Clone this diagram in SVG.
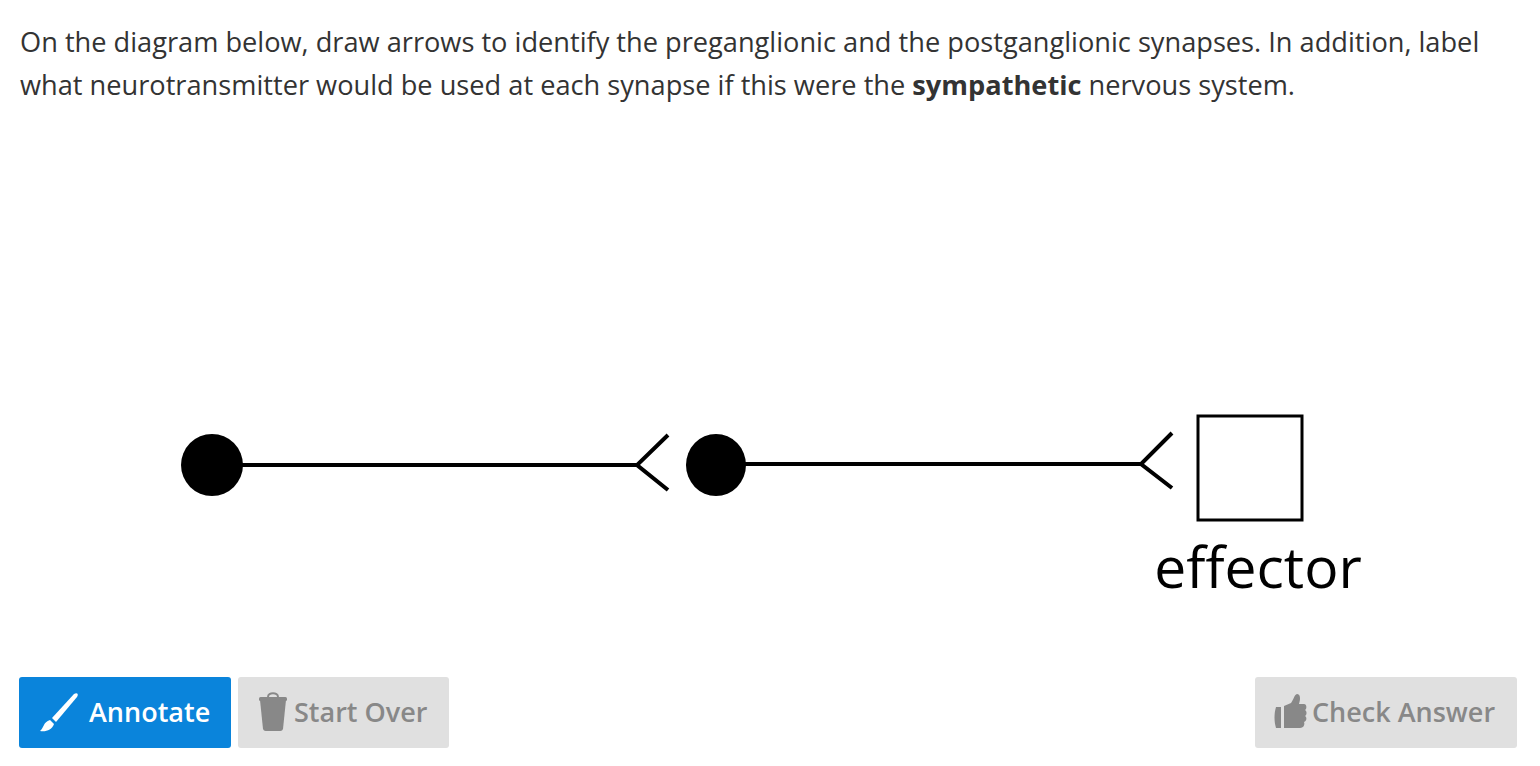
<svg xmlns="http://www.w3.org/2000/svg" width="1540" height="766" viewBox="0 0 1540 766">
<style>
.q{font-family:"Open Sans","Noto Sans",sans-serif;font-size:27.2px;fill:#333}
.ax{stroke:#000;stroke-width:4;fill:none;stroke-linecap:butt}
.soma{fill:#000}
.btn{font-family:"Open Sans","Noto Sans",sans-serif;font-size:27px;font-weight:600}
</style>
<rect width="1540" height="766" fill="#fff"/>
<text class="q" x="20" y="52">On the diagram below, draw arrows to identify the preganglionic and the postganglionic synapses. In addition, label</text>
<text class="q" x="20" y="95">what neurotransmitter would be used at each synapse if this were the <tspan font-weight="bold">sympathetic</tspan> nervous system.</text>

<g id="connectors">
<line class="ax" x1="240" y1="465" x2="637" y2="465"/>
<polyline class="ax" points="668,435 637,465 668,490"/>
<line class="ax" x1="744" y1="464" x2="1141" y2="464"/>
<polyline class="ax" points="1172,433 1141,464 1172,488"/>
</g>
<g id="neuron1"><circle class="soma" cx="212" cy="465" r="31"/></g>
<g id="neuron2"><ellipse class="soma" cx="716" cy="465" rx="30" ry="31"/></g>
<g id="effector">
<rect x="1198" y="416" width="104" height="104" fill="#fff" stroke="#000" stroke-width="3"/>
<text x="1258" y="588" text-anchor="middle" font-family="Open Sans, Noto Sans, sans-serif" font-size="57" fill="#000">effector</text>
</g>

<g id="btn-annotate">
<rect x="19" y="677" width="212" height="71" rx="3" fill="#0a84db"/>
<path d="M74 694 C77 692 79 694 77 697 L56 722 L52 718 Z" fill="#fff"/>
<path d="M50 720 L54 724 C52 730 46 732 40 731 C44 728 43 722 50 720 Z" fill="#fff"/>
<text class="btn" x="89" y="722" fill="#fff" font-weight="bold">Annotate</text>
</g>
<g id="btn-startover">
<rect x="238" y="677" width="211" height="71" rx="3" fill="#e0e0e0"/>
<path d="M260 700 L286 700 L283 729 C282 731 281 731 279 731 L267 731 C265 731 264 731 263 729 Z" fill="#888"/>
<rect x="259" y="697" width="28" height="4" rx="1.5" fill="#888"/>
<path d="M268 697 C268 692 278 692 278 697" fill="none" stroke="#888" stroke-width="2"/>
<text class="btn" x="294" y="722" fill="#888">Start Over</text>
</g>
<g id="btn-check">
<rect x="1255" y="677" width="262" height="71" rx="3" fill="#e0e0e0"/>
<path d="M1276 707 L1281 707 L1281 728 L1276 728 C1274 722 1274 713 1276 707 Z" fill="#888"/>
<path d="M1284 706 L1291 703 C1294 699 1294 695 1297 694 C1300 694 1301 698 1299 704 L1304 704 C1307 704 1307 709 1305 710 C1307 711 1307 715 1305 716 C1307 717 1307 721 1304 722 C1305 724 1304 728 1300 728 L1284 728 Z" fill="#888"/>
<text class="btn" x="1312" y="722" fill="#888">Check Answer</text>
</g>
</svg>
